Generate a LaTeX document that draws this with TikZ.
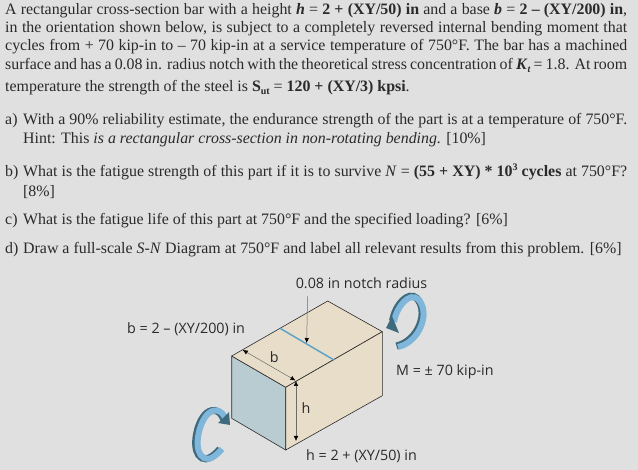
\documentclass[tikz,border=0pt]{standalone}
\usepackage{fontspec}
\setmainfont{Liberation Serif}
\newfontfamily\labelfont{Open Sans}
\usetikzlibrary{arrows.meta,positioning}
\definecolor{pagegray}{HTML}{E0E0E0}
\definecolor{inkgray}{HTML}{2A2A2A}
\definecolor{sidetan}{HTML}{E8DDC8}
\definecolor{frontblue}{HTML}{B9CCD2}
\definecolor{notchblue}{HTML}{5FA3C7}
\definecolor{momentblue}{HTML}{7FB6D9}
\definecolor{momentdark}{HTML}{3E6A7E}
\newcommand{\linew}{622pt}
\newcommand{\itemw}{604pt}
\newcommand{\lowbit}[1]{\raisebox{-3pt}{\fontsize{10}{12}\selectfont\textbf{#1}}}
\newcommand{\highbit}[1]{\raisebox{6.5pt}{\fontsize{10}{12}\selectfont\textbf{#1}}}
\tikzset{
    textline/.style={anchor=base west,inner sep=0pt,text=inkgray,font=\fontsize{15.9}{18}\selectfont},
    figlabel/.style={anchor=base west,inner sep=0pt,text=inkgray,font=\labelfont\fontsize{14.3}{16}\selectfont},
    boxedge/.style={draw=inkgray,line width=0.6pt,line join=round},
    leaderline/.style={draw=inkgray!70,line width=0.5pt},
    dimline/.style={leaderline,{Latex[length=5pt,width=4.5pt,color=black]}-{Latex[length=5pt,width=4.5pt,color=black]}}
}
\begin{document}
\begin{tikzpicture}[x=1pt,y=-1pt]
    % Page background.
    \fill[pagegray] (0,0) rectangle (638,470);
    \useasboundingbox (0,0) rectangle (638,470);

    % Problem statement.
    \node[textline] (line1) at (5,15) {\makebox[\linew][s]{A rectangular cross-section bar with a height \textbf{\textit{h}} = \textbf{2 + (XY/50) in} and a base \textbf{\textit{b}} = \textbf{2 -- (XY/200) in},}};
    \node[textline] (line2) at (5,33) {\makebox[\linew][s]{in the orientation shown below, is subject to a completely reversed internal bending moment that}};
    \node[textline] (line3) at (5,51) {\makebox[\linew][s]{cycles from + 70 kip-in to -- 70 kip-in at a service temperature of 750°F. The bar has a machined}};
    \node[textline] (line4) at (5,70) {\makebox[\linew][s]{surface and has a 0.08 in. radius notch with the theoretical stress concentration of \textbf{\textit{K}}\lowbit{\textit{t}} = 1.8. At room}};
    \node[textline] (line5) at (5,92) {temperature the strength of the steel is \textbf{S}\lowbit{ut} = \textbf{120 + (XY/3) kpsi}.};

    % Questions.
    \node[textline] (marka) at (5,125) {a)};
    \node[textline] (itema) at (23,125) {\makebox[\itemw][s]{With a 90\% reliability estimate, the endurance strength of the part is at a temperature of 750°F.}};
    \node[textline] (hinta) at (23,144) {Hint: This \textit{is a rectangular cross-section in non-rotating bending.} [10\%]};
    \node[textline] (markb) at (5,177) {b)};
    \node[textline] (itemb) at (23,177) {\makebox[\itemw][s]{What is the fatigue strength of this part if it is to survive \textit{N} = \textbf{(55 + XY) * 10\highbit{3} cycles} at 750°F?}};
    \node[textline] (moreb) at (23,197) {[8\%]};
    \node[textline] (markc) at (5,225) {c)};
    \node[textline] (itemc) at (23,225) {What is the fatigue life of this part at 750°F and the specified loading? [6\%]};
    \node[textline] (markd) at (5,254) {d)};
    \node[textline] (itemd) at (23,254) {Draw a full-scale \textit{S-N} Diagram at 750°F and label all relevant results from this problem. [6\%]};

    % Corners of the bar.
    \coordinate (frontTL) at (231.7,356);
    \coordinate (frontTR) at (285.7,387.3);
    \coordinate (frontBR) at (285.7,450);
    \coordinate (frontBL) at (231.7,418.3);
    \coordinate (backT) at (327.7,301);
    \coordinate (backR) at (382.3,331.7);
    \coordinate (backB) at (382.3,395.7);

    % Faces of the bar.
    \draw[boxedge,fill=frontblue] (frontTL) -- (frontTR) -- (frontBR) -- (frontBL) -- cycle;
    \draw[boxedge,fill=sidetan] (frontTL) -- (backT) -- (backR) -- (frontTR) -- cycle;
    \draw[boxedge,fill=sidetan] (frontTR) -- (backR) -- (backB) -- (frontBR) -- cycle;

    % Notch line.
    \coordinate (notchA) at (280,328.3);
    \coordinate (notchB) at (334,360);
    \draw[notchblue,line width=1.5pt] (notchA) -- (notchB);

    % Moment arrows.
    \draw[momentdark,line width=7pt,xshift=-1.5pt,yshift=1pt] (394,322) .. controls (397,305) and (410,292) .. (418,299)
        .. controls (431,312) and (420,342) .. (398,347);
    \draw[momentblue,line width=6pt] (394,322) .. controls (397,305) and (410,292) .. (418,299)
        .. controls (431,312) and (420,342) .. (398,347);
    \fill[momentdark] (386,328) -- (392,316) -- (399,333) -- cycle;
    \draw[momentdark,line width=7pt,xshift=-2pt] (226,420) .. controls (222,408) and (212,408) .. (206,416)
        .. controls (198,426) and (193,452) .. (204,458) .. controls (209,461) and (216,456) .. (222,449);
    \draw[momentblue,line width=6pt] (226,420) .. controls (222,408) and (212,408) .. (206,416)
        .. controls (198,426) and (193,452) .. (204,458) .. controls (209,461) and (216,456) .. (222,449);
    \fill[momentdark] (218,423) -- (230,425) -- (229,412) -- cycle;

    % Figure labels.
    \node[figlabel,anchor=base] (notchlabel) at (361.5,289) {0.08 in notch radius};
    \node[figlabel] (blabel) at (127,334) {b = 2 – (XY/200) in};
    \node[figlabel] (mlabel) at (396,376) {M = ± 70 kip-in};
    \node[figlabel] (hlabel) at (306,461) {h = 2 + (XY/50) in};
    \node[figlabel,anchor=center] (bmark) at (274.3,356.7) {b};
    \node[figlabel,anchor=center] (hmark) at (306,408.5) {h};

    % Leader and dimensions.
    \coordinate (notchend) at (306.7,343);
    \coordinate (bstart) at (242.7,350);
    \coordinate (bend) at (295.5,380.5);
    \coordinate (hstart) at (296,381);
    \coordinate (hend) at (296,441);
    \draw[leaderline,-{Latex[length=5pt,width=4.5pt,color=black]}] (notchlabel.south) ++(-54,7) -- (notchend);
    \draw[dimline] (bstart) -- (bend);
    \draw[dimline] (hstart) -- (hend);
\end{tikzpicture}
\end{document}
